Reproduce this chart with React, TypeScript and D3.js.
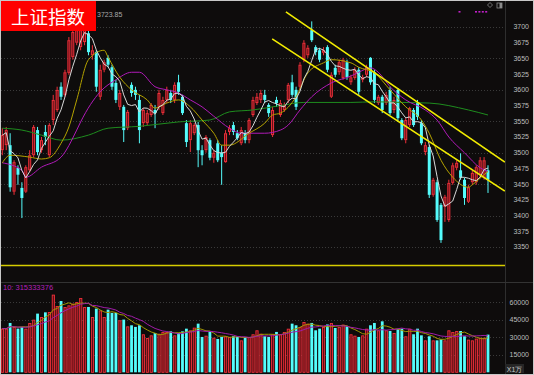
import React from 'react';
import * as d3 from 'd3';

// ---------- DATA ----------
const opens = [
  3504, 3512, 3512, 3438, 3476, 3444, 3438, 3472, 3496, 3536,
  3504, 3533, 3496, 3552, 3568, 3605, 3592, 3627, 3652, 3675,
  3668, 3676, 3690, 3655, 3660, 3589, 3632, 3651, 3636, 3611,
  3573, 3573, 3539, 3608, 3600, 3584, 3547, 3547, 3560, 3568,
  3573, 3563, 3584, 3595, 3584, 3612, 3589, 3547, 3520, 3531,
  3544, 3504, 3504, 3520, 3492, 3515, 3500, 3485, 3533, 3544,
  3531, 3515, 3531, 3520, 3560, 3579, 3584, 3592, 3576, 3528,
  3584, 3560, 3568, 3584, 3612, 3600, 3605, 3648, 3655, 3695,
  3668, 3663, 3659, 3668, 3589, 3635, 3628, 3619, 3644, 3612,
  3619, 3632, 3616, 3624, 3651, 3628, 3579, 3589, 3579, 3600,
  3568, 3600, 3552, 3520, 3544, 3568, 3579, 3547, 3501, 3509,
  3433, 3453, 3417, 3414, 3393, 3452, 3476, 3472, 3457, 3422,
  3453, 3453, 3465, 3460, 3472,
];
const highs = [
  3539, 3541, 3531, 3488, 3480, 3453, 3480, 3504, 3544, 3541,
  3525, 3544, 3547, 3592, 3605, 3612, 3632, 3684, 3695, 3700,
  3703, 3708, 3723.85, 3671, 3663, 3640, 3648, 3655, 3640, 3616,
  3600, 3576, 3568, 3612, 3605, 3592, 3571, 3568, 3579, 3576,
  3600, 3589, 3605, 3600, 3612, 3624, 3592, 3552, 3552, 3547,
  3549, 3512, 3528, 3523, 3504, 3520, 3512, 3536, 3544, 3549,
  3536, 3541, 3536, 3555, 3589, 3595, 3600, 3600, 3579, 3573,
  3589, 3584, 3580, 3611, 3624, 3605, 3644, 3679, 3671, 3708.94,
  3671, 3667, 3668, 3671, 3628, 3640, 3648, 3651, 3648, 3624,
  3636, 3636, 3624, 3640, 3652, 3632, 3592, 3592, 3597, 3605,
  3589, 3603, 3555, 3555, 3573, 3571, 3584, 3552, 3517, 3512,
  3460, 3457, 3420, 3433, 3457, 3484, 3488, 3499, 3460, 3449,
  3472, 3480, 3493, 3493, 3480,
];
const lows = [
  3496, 3504, 3438, 3433, 3449, 3396, 3436, 3469, 3493, 3496,
  3500, 3512, 3493, 3544, 3565, 3584, 3589, 3624, 3648, 3671,
  3663, 3671, 3655, 3648, 3597, 3584, 3628, 3636, 3600, 3579,
  3568, 3517, 3536, 3589, 3584, 3515, 3541, 3544, 3557, 3539,
  3568, 3560, 3579, 3579, 3579, 3592, 3560, 3509, 3501, 3528,
  3477, 3480, 3500, 3488, 3484, 3485, 3449, 3484, 3528, 3528,
  3520, 3512, 3515, 3515, 3557, 3576, 3579, 3579, 3557, 3525,
  3573, 3557, 3565, 3579, 3589, 3568, 3600, 3644, 3651, 3676,
  3655, 3644, 3655, 3628, 3587, 3620, 3624, 3616, 3616, 3608,
  3616, 3592, 3612, 3620, 3608, 3579, 3576, 3563, 3576, 3560,
  3563, 3549, 3520, 3515, 3541, 3541, 3552, 3512, 3496, 3428,
  3430, 3390, 3356.56, 3390, 3390, 3449, 3472, 3457, 3417, 3420,
  3449, 3449, 3460, 3457, 3436,
];
const closes = [
  3528, 3536, 3445, 3485, 3465, 3428, 3477, 3496, 3541, 3501,
  3520, 3525, 3544, 3584, 3600, 3589, 3628, 3679, 3692, 3695,
  3695, 3695, 3660, 3663, 3605, 3632, 3644, 3640, 3605, 3584,
  3595, 3536, 3565, 3595, 3592, 3536, 3568, 3563, 3576, 3563,
  3595, 3584, 3600, 3584, 3608, 3597, 3563, 3517, 3547, 3544,
  3504, 3496, 3525, 3492, 3500, 3488, 3493, 3531, 3539, 3533,
  3523, 3536, 3520, 3552, 3584, 3589, 3595, 3584, 3563, 3568,
  3579, 3579, 3576, 3608, 3592, 3573, 3640, 3675, 3667, 3679,
  3660, 3648, 3663, 3632, 3624, 3624, 3644, 3648, 3620, 3620,
  3632, 3597, 3620, 3636, 3612, 3584, 3589, 3568, 3592, 3563,
  3584, 3555, 3523, 3552, 3571, 3544, 3557, 3515, 3512, 3433,
  3457, 3393, 3361, 3430, 3452, 3480, 3484, 3460, 3428, 3445,
  3468, 3477, 3488, 3488, 3457,
];
const volumes = [
  37450, 37450, 42300, 38850, 37450, 38850, 37450, 42300, 45150, 50300,
  47400, 51400, 51700, 66600, 56800, 61100, 56000, 57400, 58900, 60300,
  63700, 56000, 56000, 47400, 54600, 53100, 47400, 53700, 50900, 50900,
  44600, 45200, 39400, 40300, 38900, 40300, 32600, 29400, 31700, 33700,
  33100, 34600, 34600, 35100, 31700, 33700, 35100, 37400, 36000, 38300,
  41700, 30300, 31400, 35100, 29700, 28600, 30300, 30900, 30300, 30900,
  30300, 27400, 30300, 30300, 32600, 36000, 33100, 30900, 30300, 32600,
  34600, 32600, 34600, 37400, 41700, 40300, 38900, 43100, 41700, 42300,
  36000, 37400, 38900, 41000, 42300, 38000, 39000, 40900, 39400, 32600,
  31400, 30300, 31700, 37400, 40300, 42300, 36000, 43700, 36000, 35400,
  33700, 36900, 37400, 30900, 37400, 32600, 37400, 31700, 27400, 30900,
  27400, 27400, 28300, 27400, 36000, 34600, 35400, 35400, 30900, 28000,
  27400, 28900, 29700, 29700, 32300,
];

// moving-average lines: [candle index, price]
const ma10Pts: [number, number][] = [
  [0, 3484], [2, 3496], [7, 3493], [10, 3490], [12, 3492], [15, 3515], [17, 3541],
  [19, 3584], [22, 3648], [26, 3663], [27, 3652], [30, 3620], [33, 3600], [37, 3584],
  [39, 3571], [42, 3579], [45, 3584], [48, 3573], [51, 3552], [54, 3531], [56, 3512],
  [58, 3512], [63, 3531], [67, 3547], [69, 3560], [71, 3563], [75, 3589], [78, 3627],
  [82, 3643], [84, 3648], [89, 3643], [91, 3636], [95, 3627], [99, 3600], [103, 3573],
  [107, 3552], [109, 3531], [112, 3488], [115, 3461], [119, 3445], [120, 3449],
  [123, 3465], [124, 3470],
];
const ma20Pts: [number, number][] = [
  [0, 3484], [5, 3472], [6, 3461], [10, 3477], [15, 3493], [19, 3536], [20, 3549],
  [25, 3597], [29, 3616], [33, 3628], [35, 3628], [39, 3605], [42, 3600], [45, 3595],
  [48, 3584], [51, 3573], [54, 3558], [58, 3539], [61, 3531], [67, 3531], [71, 3536],
  [73, 3544], [76, 3568], [79, 3589], [84, 3611], [89, 3622], [91, 3628], [94, 3635],
  [96, 3628], [99, 3605], [103, 3584], [108, 3568], [111, 3552], [114, 3525],
  [118, 3500], [122, 3476], [124, 3470],
];
const ma60Pts: [number, number][] = [
  [0, 3539], [5, 3536], [10, 3528], [15, 3520], [22, 3528], [27, 3539], [35, 3542],
  [45, 3549], [53, 3552], [58, 3565], [64, 3568], [71, 3575], [77, 3580], [89, 3580],
  [95, 3581], [102, 3580], [109, 3579], [119, 3568], [124, 3560],
];

// hand-drawn channel lines: [candle index, price]
const channelUpper: [number, number][] = [[72.4, 3724], [128.3, 3485]];
const channelLower: [number, number][] = [[68.9, 3681], [128.3, 3439]];

const priceTicks = [3350, 3375, 3400, 3425, 3450, 3475, 3500, 3525, 3550, 3575, 3600, 3625, 3650, 3675, 3700];
const priceGrid = [3350, 3400, 3450, 3500, 3550, 3600, 3650, 3700];
const volTicks = [15000, 30000, 45000, 60000];

const title = '上证指数';
const highLabel = '3723.85';
const volLabel = '10: 315333376';
const unitLabel = 'X1万';

// ---------- STYLE ----------
const BG = '#0e0c0c';
const RED = '#f0303a';
const RED_FILL = '#5c0e14';
const CYAN = '#54fcfc';
const FONT = 'Liberation Sans, Arial, sans-serif';

function movingAvg(arr: number[], n: number) {
  return arr.map((_, i) => {
    const s = Math.max(0, i - n + 1);
    const seg = arr.slice(s, i + 1);
    return d3.mean(seg) as number;
  });
}

export default function App() {
  const n = closes.length;
  const x = d3.scaleLinear().domain([0, n - 1]).range([2.3, 488]);
  const yP = d3.scaleLinear().domain([3350, 3700]).range([247, 27]);
  const yV = d3.scaleLinear().domain([0, 60000]).range([372.3, 302.3]);

  const ma5 = movingAvg(closes, 5);
  const vma5 = movingAvg(volumes, 5);
  const vma10 = movingAvg(volumes, 10);

  const lineIdx = d3.line<number>().x((_, i) => x(i)).y((d) => yP(d));
  const lineVol = d3.line<number>().x((_, i) => x(i)).y((d) => yV(d));
  const linePts = d3
    .line<[number, number]>()
    .x((d) => x(d[0]))
    .y((d) => yP(d[1]))
    .curve(d3.curveMonotoneX);
  const lineStraight = d3
    .line<[number, number]>()
    .x((d) => x(d[0]))
    .y((d) => yP(d[1]));

  const candles = closes.map((c, i) => {
    const o = opens[i];
    const h = highs[i];
    const l = lows[i];
    const cx = x(i);
    const up = c >= o;
    const yTop = yP(Math.max(o, c));
    const yBot = yP(Math.min(o, c));
    const bh = yBot - yTop;
    if (up) {
      return (
        <g key={i}>
          <line x1={cx} x2={cx} y1={yP(h)} y2={yTop} stroke={RED} strokeWidth={1} />
          <line x1={cx} x2={cx} y1={yBot} y2={yP(l)} stroke={RED} strokeWidth={1} />
          {bh > 2 ? (
            <rect x={cx - 1} y={yTop + 0.5} width={2} height={bh - 1} fill={RED_FILL} stroke={RED} strokeWidth={1} />
          ) : (
            <rect x={cx - 1.5} y={yTop - 0.5} width={3} height={Math.max(bh, 1)} fill={RED} />
          )}
        </g>
      );
    }
    return (
      <g key={i}>
        <line x1={cx} x2={cx} y1={yP(h)} y2={yP(l)} stroke={CYAN} strokeWidth={1} />
        <rect x={cx - 1.5} y={yTop} width={3} height={Math.max(bh, 1)} fill={CYAN} />
      </g>
    );
  });

  const volBars = volumes.map((v, i) => {
    const cx = x(i);
    const up = closes[i] >= opens[i];
    const y0 = yV(0);
    const y1 = yV(v);
    if (up) {
      return (
        <rect key={i} x={cx - 1} y={y1 + 0.5} width={2.2} height={y0 - y1 - 0.5} fill={RED_FILL} stroke={RED} strokeWidth={0.9} />
      );
    }
    return <rect key={i} x={cx - 1.4} y={y1} width={2.8} height={y0 - y1} fill={CYAN} />;
  });

  return (
    <div style={{ position: 'absolute', left: 0, top: 0 }}>
      <svg width={534} height={375} style={{ display: 'block', background: BG }}>
        <defs>
          <clipPath id="pclip">
            <rect x={1} y={1} width={504} height={263} />
          </clipPath>
          <clipPath id="vclip">
            <rect x={1} y={283} width={504} height={90} />
          </clipPath>
        </defs>
        <rect x={0} y={0} width={534} height={375} fill={BG} />

        {/* grids */}
        {priceGrid.map((t) => (
          <line key={t} x1={1} x2={505} y1={Math.round(yP(t)) + 0.5} y2={Math.round(yP(t)) + 0.5} stroke="#3a3a3a" strokeWidth={1} strokeDasharray="1 2" />
        ))}
        {volTicks.map((t) => (
          <line key={t} x1={1} x2={505} y1={Math.round(yV(t)) + 0.5} y2={Math.round(yV(t)) + 0.5} stroke="#3a3a3a" strokeWidth={1} strokeDasharray="1 2" />
        ))}

        {/* axis line */}
        <line x1={505.5} x2={505.5} y1={0} y2={375} stroke="#2e2e2e" strokeWidth={1} />

        {/* price panel */}
        <g clipPath="url(#pclip)">
          {candles}
          <path d={linePts(ma60Pts) || ''} fill="none" stroke="#1e8c1e" strokeWidth={1} />
          <path d={linePts(ma20Pts) || ''} fill="none" stroke="#b01ab8" strokeWidth={1} />
          <path d={linePts(ma10Pts) || ''} fill="none" stroke="#b4a200" strokeWidth={1} />
          <path d={lineIdx(ma5) || ''} fill="none" stroke="#d8d8d8" strokeWidth={1} />
          <path d={lineStraight(channelUpper) || ''} fill="none" stroke="#f2ec00" strokeWidth={1.6} />
          <path d={lineStraight(channelLower) || ''} fill="none" stroke="#f2ec00" strokeWidth={1.6} />
        </g>

        {/* separators */}
        <line x1={0} x2={505} y1={265.5} y2={265.5} stroke="#d6cc00" strokeWidth={1.3} />
        <line x1={0} x2={534} y1={282.5} y2={282.5} stroke="#333333" strokeWidth={1} />

        {/* volume panel */}
        <g clipPath="url(#vclip)">
          {volBars}
          <path d={lineVol(vma5) || ''} fill="none" stroke="#a09600" strokeWidth={1} />
          <path d={lineVol(vma10) || ''} fill="none" stroke="#a01ca8" strokeWidth={1} />
        </g>
        <text x={3} y={290} fontFamily={FONT} fontSize={7.5} fill="#b020b8">{volLabel}</text>

        {/* right axis labels */}
        {priceTicks.map((t) => (
          <text key={t} x={529} y={yP(t)} dy="0.35em" textAnchor="end" fontFamily={FONT} fontSize={7} fill="#bdbdbd">
            {t}
          </text>
        ))}
        {volTicks.map((t) => (
          <text key={t} x={529} y={yV(t)} dy="0.35em" textAnchor="end" fontFamily={FONT} fontSize={7} fill="#bdbdbd">
            {t}
          </text>
        ))}
        <rect x={505} y={364} width={19} height={9} fill="#262626" />
        <text x={514.5} y={371.5} textAnchor="middle" fontFamily={FONT} fontSize={7} fill="#c8c8c8">{unitLabel}</text>

        {/* header */}
        <rect x={0} y={0} width={96} height={31} fill="#ff0000" />
        <text x={48} y={23.5} textAnchor="middle" fontFamily="Noto Sans CJK SC, sans-serif" fontSize={18.5} fill="#ffffff">
          {title}
        </text>
        <text x={97} y={17} fontFamily={FONT} fontSize={7} fill="#a8a8a8">{highLabel}</text>

        {/* top-right decorations */}
        <rect x={458.5} y={11} width={2} height={1.6} fill="#c020c8" />
        {[0, 1, 2, 3].map((k) => (
          <rect key={k} x={475 + k * 3.4} y={11} width={2} height={1.6} fill="#c020c8" />
        ))}
        <polygon points="490,2.5 492.5,5 490,7.5 487.5,5" fill="none" stroke="#8a8a8a" strokeWidth={0.8} />
        <rect x={497} y={3} width={5} height={5} fill="none" stroke="#8a8a8a" strokeWidth={0.8} />
        <rect x={499.5} y={3} width={2.5} height={5} fill="#8a8a8a" />

        {/* frame */}
        <rect x={0.5} y={0.5} width={533} height={374} fill="none" stroke="#c8c8c8" strokeWidth={1} />
      </svg>
    </div>
  );
}
